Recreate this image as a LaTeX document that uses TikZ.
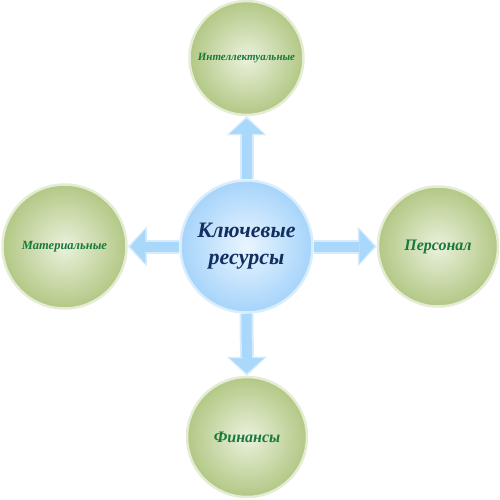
\documentclass[tikz,border=0pt]{standalone}
\usepackage{fontspec}
\setmainfont{Liberation Serif}
\usetikzlibrary{arrows.meta}
\definecolor{hubblue}{HTML}{A6D4FA}
\definecolor{hubcore}{HTML}{E9F5FF}
\definecolor{hubrim}{HTML}{D8EDFE}
\definecolor{leafgreen}{HTML}{B2C885}
\definecolor{leafcore}{HTML}{EAF1DC}
\definecolor{leafrim}{HTML}{E4EDD4}
\definecolor{arrowblue}{HTML}{A9D8FB}
\definecolor{arrowedge}{HTML}{D6ECFD}
\definecolor{navytext}{HTML}{132F60}
\definecolor{greentext}{HTML}{17793A}
\begin{document}
\begin{tikzpicture}[x=1pt, y=-1pt,
            hub/.style={circle, minimum size=132pt, inner sep=0pt, draw=hubrim, line width=2.5pt,
              inner color=hubcore, outer color=hubblue, align=center, text=navytext,
              font=\fontsize{22}{27}\selectfont\bfseries\itshape},
            leaf/.style={circle, minimum size=120pt, inner sep=0pt, draw=leafrim, line width=2.5pt,
              inner color=leafcore, outer color=leafgreen, text=greentext,
              font=\bfseries\itshape},
            arrowrim/.style={draw=arrowedge, line width=14pt,
              -{Triangle[length=19pt, width=40pt, line width=0pt]}},
            arrowbody/.style={draw=arrowblue, line width=10pt, shorten >=2.5pt,
              -{Triangle[length=15pt, width=34pt, line width=0pt]}}
            ]
            \useasboundingbox (0,0) rectangle (500,500);

            \node[hub] (res) at (246.5,246.5) {Ключевые\\ресурсы};
            \node[leaf, minimum size=114pt] (intel) at (246.5,58) {\fontsize{11}{13}\selectfont Интеллектуальные};
            \node[leaf, minimum size=124pt] (mat) at (64.5,246.5) {\fontsize{12.5}{14}\selectfont Материальные};
            \node[leaf] (pers) at (438,246.5) {\fontsize{16}{18}\selectfont Персонал};
            \node[leaf] (fin) at (247,437) {\fontsize{16}{18}\selectfont Финансы};

            \draw[arrowrim] (res) -- (intel);
            \draw[arrowbody] (res) -- (intel);
            \draw[arrowrim] (res) -- (mat);
            \draw[arrowbody] (res) -- (mat);
            \draw[arrowrim] (res) -- (pers);
            \draw[arrowbody] (res) -- (pers);
            \draw[arrowrim] (res) -- (fin);
            \draw[arrowbody] (res) -- (fin);

            \end{tikzpicture}
\end{document}
